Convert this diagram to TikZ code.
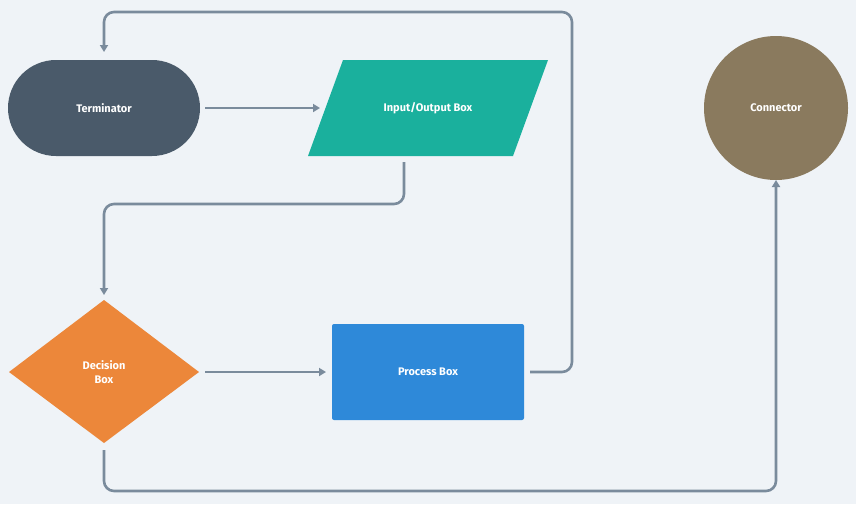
\documentclass[tikz,border=0pt]{standalone}
\usepackage{fontspec}
\setmainfont{Fira Sans}
\usetikzlibrary{arrows.meta,shapes.geometric}
\definecolor{bg}{HTML}{EFF3F7}
\definecolor{ln}{HTML}{7A8B9C}
\definecolor{term}{HTML}{4A5A6A}
\definecolor{io}{HTML}{1AB09D}
\definecolor{conn}{HTML}{8A7A5E}
\definecolor{dec}{HTML}{EC873A}
\definecolor{proc}{HTML}{2E89D9}
\begin{document}
\begin{tikzpicture}[x=1pt,y=-1pt,
  lbl/.style={text=white,font=\bfseries\fontsize{11}{14}\selectfont,align=center},
  con/.style={draw=ln,line width=2.6pt,rounded corners=10pt,-{Triangle[length=7pt,width=8pt]}}]
\fill[bg] (0,0) rectangle (856,504);
\useasboundingbox (0,0) rectangle (856,504);
\node[lbl,fill=term,rounded corners=48pt,minimum width=192pt,minimum height=96pt,inner sep=0] (t) at (104,108) {Terminator};
\fill[io] (343,60) -- (548,60) -- (513,156) -- (308,156) -- cycle;
\node[lbl] (io) at (428,108) {Input/Output Box};
\coordinate (iob) at (404,162);
\node[lbl,fill=conn,circle,minimum size=144pt,inner sep=0] (c) at (776,108) {Connector};
\fill[dec] (104,300) -- (199,372) -- (104,443) -- (9,372) -- cycle;
\node[lbl] (d) at (104,372) {Decision\\Box};
\node[lbl,fill=proc,rounded corners=2pt,minimum width=192pt,minimum height=96pt,inner sep=0] (p) at (428,372) {Process Box};
\coordinate (tr) at (205,108); \coordinate (ioL) at (320,108);
\coordinate (dr) at (205,372); \coordinate (pl) at (326,372);
\coordinate (pr) at (530,372); \coordinate (tt) at (104,52);
\coordinate (db) at (104,450); \coordinate (cb) at (776,180);
\coordinate (dt) at (104,295);
\draw[con] (tr) -- (ioL);
\draw[con] (iob) -- (404,204) -- (104,204) -- (dt);
\draw[con] (dr) -- (pl);
\draw[con] (pr) -- (572,372) -- (572,12) -- (104,12) -- (tt);
\draw[con] (db) -- (104,491) -- (776,491) -- (cb);
\end{tikzpicture}
\end{document}
